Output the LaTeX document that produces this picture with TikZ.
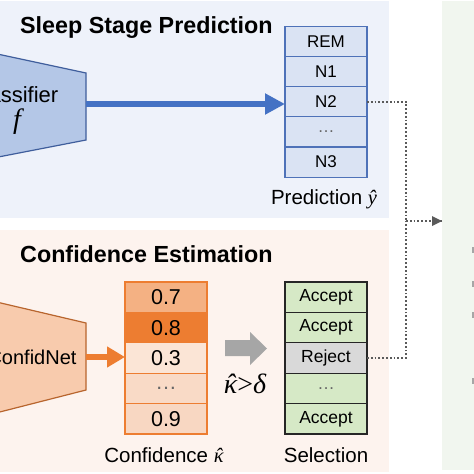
\documentclass[tikz,border=0pt]{standalone}
\usepackage{fontspec}
\setmainfont{Liberation Sans}
\newfontfamily\symfont{Liberation Serif}
\usetikzlibrary{arrows.meta}
\definecolor{bluebg}{HTML}{EEF2FA}
\definecolor{peachbg}{HTML}{FDF3EE}
\definecolor{greenbg}{HTML}{F1F6EF}
\definecolor{predfill}{HTML}{DAE3F3}
\definecolor{predline}{HTML}{4E72B8}
\definecolor{arrowblue}{HTML}{4472C4}
\definecolor{clffill}{HTML}{B4C7E7}
\definecolor{clfline}{HTML}{3F5E9C}
\definecolor{cnfill}{HTML}{F8CBAD}
\definecolor{cnline}{HTML}{B8652E}
\definecolor{orangeA}{HTML}{F4B183}
\definecolor{orangeB}{HTML}{ED7D31}
\definecolor{orangeC}{HTML}{FBE5D6}
\definecolor{orangeD}{HTML}{F9DAC6}
\definecolor{orangeE}{HTML}{F8D7C2}
\definecolor{acceptfill}{HTML}{D6E9C6}
\definecolor{rejectfill}{HTML}{D9D9D9}
\definecolor{selline}{HTML}{262626}
\definecolor{dotgray}{HTML}{5A5A5A}
\definecolor{blockgray}{HTML}{A6A6A6}
\newcommand{\symit}[1]{{\symfont\itshape #1}}
\newcommand{\khat}{{\symfont\itshape\accent"02C6 κ}}
\tikzset{
  predcell/.style={draw=predline, fill=predfill, line width=1.2pt, minimum width=82pt, minimum height=30.2pt, inner sep=0pt, outer sep=0pt, font=\fontsize{17}{20}\selectfont},
  confcell/.style={draw=orangeB, line width=1.2pt, minimum width=82pt, minimum height=30.4pt, inner sep=0pt, outer sep=0pt, font=\fontsize{21.5}{24}\selectfont},
  selcell/.style={draw=selline, fill=acceptfill, line width=1.2pt, minimum width=82pt, minimum height=30.4pt, inner sep=0pt, outer sep=0pt, font=\fontsize{17.5}{20}\selectfont},
  paneltitle/.style={anchor=base west, inner sep=0pt, font=\fontsize{23.3}{26}\selectfont\bfseries},
  caption/.style={anchor=base, inner sep=0pt, font=\fontsize{20.5}{24}\selectfont},
  dotline/.style={draw=dotgray, line width=1.8pt, dotted},
}
\begin{document}
\begin{tikzpicture}[x=1pt,y=-1pt]
\useasboundingbox (0,0) rectangle (474,474);
\clip (0,0) rectangle (474,474);
% panels
\fill[bluebg] (0,1) rectangle (389,218);
\fill[peachbg] (0,230) rectangle (389,472);
\fill[greenbg] (442,1) rectangle (474,470);
\foreach \yy in {247,281,312,378} \fill[gray!70] (472,\yy) rectangle (474,\yy+6);
% titles
\node[paneltitle] (t1) at (20,33) {Sleep Stage Prediction};
\node[paneltitle] (t2) at (20,262) {Confidence Estimation};
% classifier
\draw[clfline, fill=clffill, line width=1.2pt] (-12,52) -- (86,73) -- (86,140) -- (-12,159) -- cycle;
\node[align=center, font=\fontsize{22}{28}\selectfont, inner sep=0pt] (clf) at (13,95) {Classifier};
\node[inner sep=0pt, font=\fontsize{28}{30}\selectfont] (fsym) at (17,122) {\symit{f}};
\coordinate (clfR) at (86,104);
% confidnet
\draw[cnline, fill=cnfill, line width=1.2pt] (-12,300) -- (86,323) -- (86,390) -- (-12,415) -- cycle;
\node[font=\fontsize{20}{24}\selectfont, inner sep=0pt] (cn) at (32,357) {ConfidNet};
\coordinate (cnR) at (86,357);
% prediction column
\node[predcell] (p1) at (326,41.2) {REM};
\node[predcell] (p2) at (326,71.4) {N1};
\node[predcell] (p3) at (326,101.6) {N2};
\node[predcell] (p4) at (326,131.8) {\textcolor{black!60}{…}};
\node[predcell] (p5) at (326,162) {N3};
\node[caption] (pl) at (324,204) {Prediction \symit{ŷ}};
% confidence column
\node[confcell, fill=orangeA] (c1) at (166,297.2) {0.7};
\node[confcell, fill=orangeB] (c2) at (166,327.6) {0.8};
\node[confcell, fill=orangeC] (c3) at (166,358) {0.3};
\node[confcell, fill=orangeD] (c4) at (166,388.4) {\textcolor{black!60}{…}};
\node[confcell, fill=orangeE] (c5) at (166,418.8) {0.9};
\node[caption] (cl) at (164,462) {Confidence \khat};
% selection column
\node[selcell] (s1) at (326,297.2) {Accept};
\node[selcell] (s2) at (326,327.6) {Accept};
\node[selcell, fill=rejectfill] (s3) at (326,358) {Reject};
\node[selcell] (s4) at (326,388.4) {\textcolor{black!60}{…}};
\node[selcell] (s5) at (326,418.8) {Accept};
\node[caption] (sl) at (326,462) {Selection};
% arrows
\draw[arrowblue, line width=6pt, -{Triangle[length=20pt,width=20pt]}] (clfR) -- (clfR -| p3.west);
\draw[orangeB, line width=6pt, -{Triangle[length=18pt,width=20pt]}] (cnR) -- (cnR -| c3.west);
\fill[blockgray] (225,340) -- (250,340) -- (250,332) -- (267,348.5) -- (250,365) -- (250,356) -- (225,356) -- cycle;
\node[inner sep=0pt, font=\fontsize{28}{30}\selectfont] (cond) at (245,384) {\khat{\symfont >}\symit{δ}};
% dotted connectors
\coordinate (junc) at (406,221);
\coordinate (tip) at (442,221);
\draw[dotline] (p3.east) -| (junc);
\draw[dotline] (s3.east) -| (junc);
\draw[dotline] (junc) -- (tip);
\fill[dotgray] (tip) -- ++(-10,-5) -- ++(0,10) -- cycle;
\end{tikzpicture}
\end{document}
